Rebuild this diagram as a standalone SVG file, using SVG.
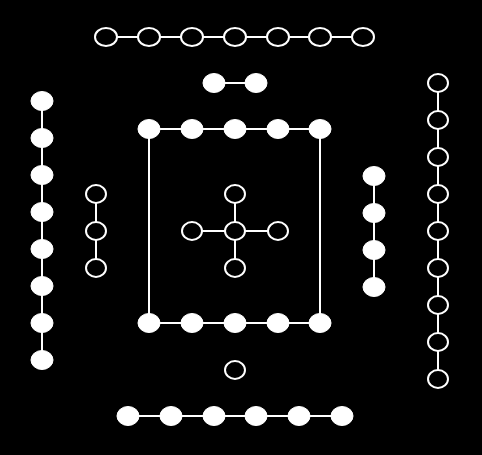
<svg xmlns="http://www.w3.org/2000/svg" width="482" height="455" viewBox="0 0 482 455">
<style>
.o{fill:#000;stroke:#fff;stroke-width:2}
.f{fill:#fff;stroke:#fff;stroke-width:1}
.e{stroke:#fff;stroke-width:2;fill:none}
</style>
<rect width="482" height="455" fill="#000"/>
<g id="edges">
<path class="e" d="M106,37H363 M214,83H256 M149,129H320 M149,323H320 M149,129V323 M320,129V323 M42,101V360 M438,83V379 M96,194V268 M374,176V287 M235,194V268 M192,231H278 M128,416H342"/>
</g>
<g id="top"><ellipse class="o" cx="106" cy="37" rx="11" ry="9"/><ellipse class="o" cx="149" cy="37" rx="11" ry="9"/><ellipse class="o" cx="192" cy="37" rx="11" ry="9"/><ellipse class="o" cx="235" cy="37" rx="11" ry="9"/><ellipse class="o" cx="278" cy="37" rx="11" ry="9"/><ellipse class="o" cx="320" cy="37" rx="11" ry="9"/><ellipse class="o" cx="363" cy="37" rx="11" ry="9"/></g>
<g id="pair"><ellipse class="f" cx="214" cy="83" rx="11" ry="9.5"/><ellipse class="f" cx="256" cy="83" rx="11" ry="9.5"/></g>
<g id="sqtop"><ellipse class="f" cx="149" cy="129" rx="11" ry="9.5"/><ellipse class="f" cx="192" cy="129" rx="11" ry="9.5"/><ellipse class="f" cx="235" cy="129" rx="11" ry="9.5"/><ellipse class="f" cx="278" cy="129" rx="11" ry="9.5"/><ellipse class="f" cx="320" cy="129" rx="11" ry="9.5"/></g>
<g id="sqbot"><ellipse class="f" cx="149" cy="323" rx="11" ry="9.5"/><ellipse class="f" cx="192" cy="323" rx="11" ry="9.5"/><ellipse class="f" cx="235" cy="323" rx="11" ry="9.5"/><ellipse class="f" cx="278" cy="323" rx="11" ry="9.5"/><ellipse class="f" cx="320" cy="323" rx="11" ry="9.5"/></g>
<g id="left"><ellipse class="f" cx="42" cy="101" rx="11" ry="9.5"/><ellipse class="f" cx="42" cy="138" rx="11" ry="9.5"/><ellipse class="f" cx="42" cy="175" rx="11" ry="9.5"/><ellipse class="f" cx="42" cy="212" rx="11" ry="9.5"/><ellipse class="f" cx="42" cy="249" rx="11" ry="9.5"/><ellipse class="f" cx="42" cy="286" rx="11" ry="9.5"/><ellipse class="f" cx="42" cy="323" rx="11" ry="9.5"/><ellipse class="f" cx="42" cy="360" rx="11" ry="9.5"/></g>
<g id="right"><ellipse class="o" cx="438" cy="83" rx="10" ry="9"/><ellipse class="o" cx="438" cy="120" rx="10" ry="9"/><ellipse class="o" cx="438" cy="157" rx="10" ry="9"/><ellipse class="o" cx="438" cy="194" rx="10" ry="9"/><ellipse class="o" cx="438" cy="231" rx="10" ry="9"/><ellipse class="o" cx="438" cy="268" rx="10" ry="9"/><ellipse class="o" cx="438" cy="305" rx="10" ry="9"/><ellipse class="o" cx="438" cy="342" rx="10" ry="9"/><ellipse class="o" cx="438" cy="379" rx="10" ry="9"/></g>
<g id="smallleft"><ellipse class="o" cx="96" cy="194" rx="10" ry="9"/><ellipse class="o" cx="96" cy="231" rx="10" ry="9"/><ellipse class="o" cx="96" cy="268" rx="10" ry="9"/></g>
<g id="smallright"><ellipse class="f" cx="374" cy="176" rx="11" ry="9.5"/><ellipse class="f" cx="374" cy="213" rx="11" ry="9.5"/><ellipse class="f" cx="374" cy="250" rx="11" ry="9.5"/><ellipse class="f" cx="374" cy="287" rx="11" ry="9.5"/></g>
<g id="cross"><ellipse class="o" cx="235" cy="194" rx="10" ry="9"/><ellipse class="o" cx="235" cy="268" rx="10" ry="9"/><ellipse class="o" cx="192" cy="231" rx="10" ry="9"/><ellipse class="o" cx="278" cy="231" rx="10" ry="9"/><ellipse class="o" cx="235" cy="231" rx="10" ry="9"/></g>
<g id="lone"><ellipse class="o" cx="235" cy="370" rx="10" ry="9"/></g>
<g id="bottom"><ellipse class="f" cx="128" cy="416" rx="11" ry="9.5"/><ellipse class="f" cx="171" cy="416" rx="11" ry="9.5"/><ellipse class="f" cx="214" cy="416" rx="11" ry="9.5"/><ellipse class="f" cx="256" cy="416" rx="11" ry="9.5"/><ellipse class="f" cx="299" cy="416" rx="11" ry="9.5"/><ellipse class="f" cx="342" cy="416" rx="11" ry="9.5"/></g>
</svg>
